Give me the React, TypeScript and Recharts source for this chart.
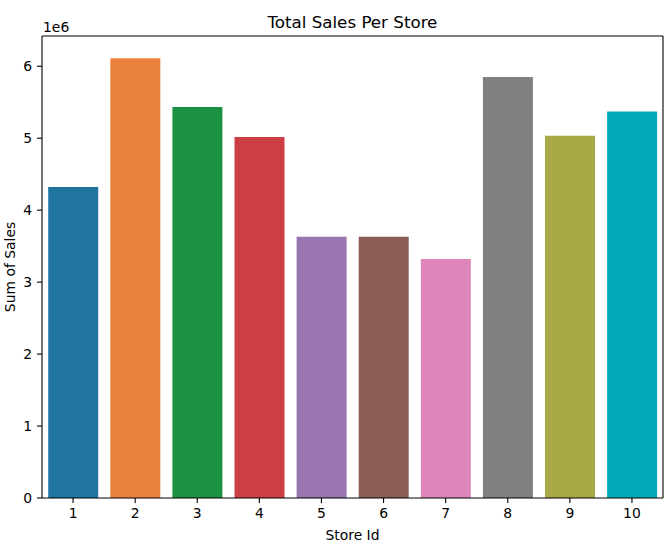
import React from 'react';
import { BarChart, Bar, XAxis, YAxis, Cell, ReferenceLine } from 'recharts';

const storeIds = ['1', '2', '3', '4', '5', '6', '7', '8', '9', '10'];
const salesMillions = [4.32, 6.11, 5.435, 5.018, 3.63, 3.63, 3.32, 5.85, 5.035, 5.37];
const barColors = [
  '#1f74a0', '#eb823c', '#1a9241', '#cb3f44', '#9a75b0',
  '#8a5c55', '#de85ba', '#808080', '#a9aa45', '#03aab8',
];
const yTicks = [0, 1e6, 2e6, 3e6, 4e6, 5e6, 6e6];
const yMax = 6.42e6;

const data = storeIds.map((store, i) => ({ store, sales: salesMillions[i] * 1e6 }));

const font = 'DejaVu Sans, sans-serif';
const tickStyle = { fontSize: 13.9, fill: '#000', fontFamily: font };
const spine = { stroke: '#000', strokeWidth: 1.1 };

const App: React.FC = () => {
  return (
    <div style={{ position: 'absolute', left: 0, top: 0, width: 668, height: 547, background: '#fff' }}>
      <BarChart
        width={668}
        height={547}
        data={data}
        margin={{ top: 36, right: 5, left: 0, bottom: 0 }}
        barCategoryGap="10%"
      >
        <XAxis
          dataKey="store"
          height={49}
          tick={tickStyle}
          tickSize={5}
          tickMargin={5}
          axisLine={spine}
          tickLine={spine}
          label={{ value: 'Store Id', position: 'insideBottom', offset: 7, style: { ...tickStyle } }}
        />
        <YAxis
          width={42}
          domain={[0, yMax]}
          ticks={yTicks}
          tickFormatter={(v: number) => String(v / 1e6)}
          tick={tickStyle}
          tickSize={5}
          tickMargin={5}
          axisLine={spine}
          tickLine={spine}
          label={{
            value: 'Sum of Sales',
            angle: -90,
            position: 'insideLeft',
            offset: 10,
            style: { ...tickStyle, textAnchor: 'middle' },
          }}
        />
        <Bar dataKey="sales" isAnimationActive={false}>
          {data.map((d, i) => (
            <Cell key={d.store} fill={barColors[i]} />
          ))}
        </Bar>
        {/* top and right spines of the matplotlib frame */}
        <ReferenceLine y={yMax} stroke="#000" strokeWidth={1.1} />
        <ReferenceLine x={storeIds[storeIds.length - 1]} position="end" stroke="#000" strokeWidth={1.1} />
      </BarChart>
      <svg
        width={668}
        height={547}
        style={{ position: 'absolute', left: 0, top: 0, pointerEvents: 'none' }}
      >
        <text x={352.4} y={27.7} textAnchor="middle" fontSize={16.7} fontFamily={font} fill="#000">
          Total Sales Per Store
        </text>
        <text x={43} y={31.5} fontSize={13.9} fontFamily={font} fill="#000">
          1e6
        </text>
      </svg>
    </div>
  );
};

export default App;
